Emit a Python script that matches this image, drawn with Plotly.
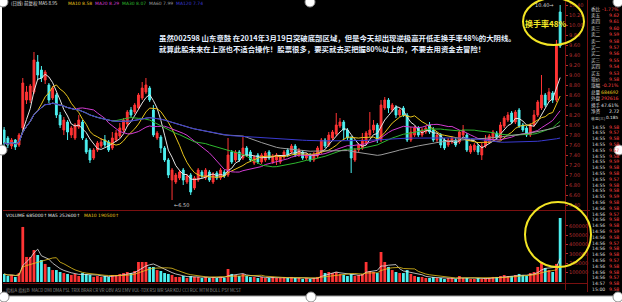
import plotly.graph_objects as go
import pandas as pd

W, H = 622, 302


def px(x):
    return x / W


def py(y):
    return 1 - y / H


# ---------------- data (daily K-line, 002598) ----------------
opens = [7.90, 7.74, 7.58, 7.70, 7.60, 7.94, 8.50, 8.50, 8.66, 9.26,
         9.10, 8.90, 8.80, 8.54, 8.60, 8.20, 7.90, 8.06, 7.80, 7.74,
         7.96, 8.06, 7.70, 7.50, 7.34, 7.50, 7.58, 7.70, 7.66, 7.54,
         7.70, 7.78, 7.90, 8.02, 8.30, 8.26, 8.34, 8.54, 8.66, 8.74,
         8.30, 7.74, 7.76, 7.54, 7.30, 6.90, 6.86, 6.94, 7.10, 6.86,
         7.00, 6.74, 6.90, 7.06, 6.94, 7.06, 6.86, 7.04, 6.94, 7.06,
         7.00, 7.46, 7.30, 7.46, 7.34, 7.54, 7.46, 7.24, 7.40, 7.26,
         7.30, 7.46, 7.26, 7.30, 7.26, 7.36, 7.50, 7.46, 7.58, 7.40,
         7.46, 7.34, 7.40, 7.30, 7.38, 7.46, 7.70, 7.60, 7.74, 7.82,
         7.98, 8.06, 7.90, 7.74, 7.30, 7.50, 7.54, 7.64, 7.80, 7.90,
         8.00, 7.70, 8.34, 8.50, 8.30, 8.36, 8.20, 8.34, 8.20, 7.70,
         7.80, 7.94, 7.80, 7.86, 8.00, 7.90, 7.70, 7.80, 7.70, 7.60,
         7.66, 7.70, 7.66, 7.80, 7.80, 7.46, 7.50, 7.58, 7.40, 7.58,
         7.66, 7.74, 7.84, 7.74, 7.98, 8.10, 8.24, 8.06, 8.30, 8.00,
         7.94, 7.80, 8.00, 8.20, 8.34, 8.60, 8.50, 8.64, 8.50, 10.26]
closes = [7.64, 7.60, 7.70, 7.56, 7.80, 8.84, 8.66, 8.78, 9.30, 9.00,
          8.94, 9.06, 8.50, 8.74, 8.20, 8.00, 8.10, 7.86, 7.94, 8.00,
          8.10, 7.74, 7.46, 7.30, 7.50, 7.64, 7.66, 7.60, 7.50, 7.74,
          7.84, 7.94, 8.10, 8.26, 8.20, 8.40, 8.60, 8.74, 8.80, 8.50,
          7.80, 7.84, 7.54, 7.30, 7.00, 7.10, 7.00, 7.06, 6.90, 6.98,
          6.66, 6.94, 7.10, 6.98, 7.10, 6.90, 7.02, 6.94, 7.10, 6.98,
          7.40, 7.26, 7.46, 7.30, 7.54, 7.40, 7.30, 7.36, 7.26, 7.40,
          7.44, 7.34, 7.38, 7.40, 7.36, 7.46, 7.40, 7.58, 7.40, 7.50,
          7.34, 7.40, 7.30, 7.42, 7.54, 7.70, 7.58, 7.80, 7.86, 8.00,
          8.06, 7.90, 7.74, 7.34, 7.50, 7.60, 7.70, 7.84, 7.90, 8.00,
          7.70, 8.40, 8.50, 8.34, 8.40, 8.20, 8.30, 8.20, 7.70, 7.86,
          7.94, 7.80, 7.90, 7.94, 7.86, 7.70, 7.80, 7.60, 7.54, 7.70,
          7.74, 7.60, 7.86, 7.90, 7.50, 7.58, 7.60, 7.46, 7.58, 7.70,
          7.78, 7.86, 7.74, 8.00, 8.14, 8.20, 8.06, 8.26, 7.98, 7.90,
          7.80, 8.00, 8.20, 8.46, 8.60, 8.40, 8.66, 8.50, 9.60, 9.58]
highs = [7.96, 7.78, 7.74, 7.72, 7.84, 8.94, 8.78, 8.82, 9.46, 9.40,
         9.18, 9.10, 8.84, 8.78, 8.64, 8.26, 8.16, 8.10, 7.98, 8.04,
         8.20, 8.10, 7.74, 7.54, 7.54, 7.68, 7.74, 7.80, 7.70, 7.86,
         7.90, 8.04, 8.14, 8.30, 8.36, 8.44, 8.64, 8.86, 8.94, 8.78,
         8.40, 7.88, 7.80, 7.58, 7.34, 7.14, 7.04, 7.10, 7.14, 7.02,
         7.04, 6.98, 7.14, 7.10, 7.14, 7.10, 7.06, 7.08, 7.14, 7.10,
         7.74, 7.50, 7.50, 7.50, 7.76, 7.58, 7.50, 7.40, 7.44, 7.44,
         7.48, 7.50, 7.42, 7.44, 7.40, 7.50, 7.54, 7.62, 7.62, 7.54,
         7.50, 7.44, 7.44, 7.46, 7.58, 7.74, 7.74, 7.86, 7.90, 8.24,
         8.14, 8.10, 7.94, 7.78, 7.54, 7.64, 7.84, 7.88, 8.26, 8.10,
         8.04, 8.50, 8.56, 8.54, 8.44, 8.40, 8.34, 8.38, 8.24, 7.96,
         7.98, 7.98, 7.94, 7.98, 8.06, 7.96, 7.84, 7.84, 7.74, 7.74,
         7.78, 7.74, 7.90, 8.00, 7.84, 7.62, 7.64, 7.62, 7.66, 7.80,
         7.82, 7.90, 7.88, 8.06, 8.18, 8.26, 8.28, 8.30, 8.34, 8.04,
         7.98, 8.04, 8.30, 8.50, 9.00, 8.64, 8.74, 8.68, 9.70, 10.40]
lows = [7.58, 7.54, 7.52, 7.50, 7.56, 7.90, 8.42, 8.44, 8.62, 8.90,
        8.86, 8.82, 8.44, 8.50, 8.14, 7.94, 7.80, 7.70, 7.74, 7.70,
        7.92, 7.70, 7.42, 7.24, 7.30, 7.46, 7.54, 7.56, 7.46, 7.50,
        7.66, 7.74, 7.86, 7.96, 8.16, 8.22, 8.30, 8.50, 8.62, 8.46,
        7.76, 7.70, 7.44, 7.26, 6.94, 6.50, 6.82, 6.90, 6.80, 6.82,
        6.60, 6.70, 6.86, 6.94, 6.90, 6.86, 6.82, 6.90, 6.90, 6.94,
        6.96, 7.22, 7.26, 7.26, 7.30, 7.36, 7.26, 7.20, 7.22, 7.22,
        7.26, 7.30, 7.22, 7.20, 7.22, 7.32, 7.36, 7.42, 7.36, 7.36,
        7.30, 7.30, 7.26, 7.26, 7.34, 7.42, 7.54, 7.56, 7.70, 7.78,
        7.94, 7.70, 7.70, 7.04, 7.26, 7.46, 7.50, 7.60, 7.76, 7.84,
        7.64, 7.66, 8.30, 8.24, 8.26, 8.14, 8.16, 8.16, 7.66, 7.66,
        7.76, 7.76, 7.76, 7.82, 7.82, 7.66, 7.66, 7.54, 7.50, 7.56,
        7.62, 7.56, 7.62, 7.76, 7.46, 7.42, 7.46, 7.40, 7.30, 7.54,
        7.62, 7.70, 7.70, 7.70, 7.94, 8.06, 8.02, 8.02, 7.94, 7.86,
        7.76, 7.76, 7.96, 8.16, 8.30, 8.36, 8.46, 8.44, 8.46, 9.54]
# volume in 万手 (10k lots)
volumes = [8.6, 6.4, 7.5, 5.4, 9.6, 58.9, 26.8, 26.8, 34.2, 28.9,
           23.5, 19.3, 16.1, 12.8, 12.8, 10.7, 9.6, 8.6, 7.5, 8.6,
           6.4, 9.6, 8.6, 7.5, 5.4, 6.4, 5.4, 6.4, 5.4, 7.5,
           7.5, 8.6, 9.6, 10.7, 9.6, 11.8, 21.4, 21.4, 21.4, 16.1,
           16.1, 12.8, 11.8, 9.6, 8.6, 7.5, 5.4, 5.4, 6.4, 4.3,
           6.4, 5.4, 5.4, 4.3, 5.4, 4.3, 5.4, 4.3, 5.4, 4.3,
           13.9, 8.6, 7.5, 6.4, 8.6, 6.4, 5.4, 5.4, 4.3, 5.4,
           4.3, 4.3, 5.4, 4.3, 4.3, 5.4, 4.3, 5.4, 4.3, 4.3,
           3.2, 4.3, 3.2, 4.3, 5.4, 12.8, 9.6, 10.7, 9.6, 10.7,
           8.6, 7.5, 6.4, 8.6, 6.4, 7.5, 8.6, 21.4, 11.8, 10.7,
           9.6, 32.1, 21.4, 16.1, 12.8, 10.7, 9.6, 9.6, 12.8, 8.6,
           6.4, 5.4, 5.4, 4.3, 4.3, 5.4, 4.3, 4.3, 3.2, 4.3,
           4.3, 3.2, 6.4, 4.3, 4.3, 3.2, 3.2, 4.3, 3.2, 4.3,
           4.3, 5.4, 5.4, 6.4, 7.5, 6.4, 6.4, 7.5, 8.6, 7.5,
           6.4, 9.6, 10.7, 16.1, 21.4, 15.0, 12.8, 10.7, 19.3, 68.5]

ma_periods = [5, 10, 20, 30, 60, 120]
ma_colors = ["#e4e4e4", "#e8c41c", "#d23cd2", "#2eb82e", "#9c9c9c", "#3a3ad0"]
vol_ma_periods = [5, 10]
vol_ma_colors = ["#e4e4e4", "#e8c41c"]

title_lines = [
    "虽然002598 山东章鼓 在2014年3月19日突破底部区域，但是今天却出现逆极高开低走换手率48%的大阴线。",
    "就算此股未来在上涨也不适合操作！股票很多，要买就去买把握80%以上的，不要去用资金去冒险！",
]
circle_note = "换手率48%"

panel_labels = ["委比", "卖五", "卖四", "卖三", "卖二", "卖一", "买一", "买二", "买三",
                "买四", "买五", "现价", "涨幅", "总量", "外盘", "换手", "净资", "收益(三)"]
panel_values = ["-1.77%", "9.62", "9.61", "9.60", "9.59", "9.58", "9.57", "9.56", "9.55",
                "9.54", "9.53", "9.58", "-0.21%", "684692", "292616", "47.61%", "2.72", "0.185"]
tick_times = ["14:55"] * 13 + ["14:56"] * 14 + ["14:57", "15:00"]
tick_prices = ["9.58", "9.57", "9.58", "9.58", "9.57", "9.58", "9.59", "9.58", "9.58", "9.57",
               "9.58", "9.58", "9.59", "9.58", "9.58", "9.57", "9.58", "9.58", "9.59", "9.58",
               "9.57", "9.58", "9.58", "9.57", "9.58", "9.58", "9.57", "9.58", "9.58"]
indicator_tabs = "指标A 指标B  MACD DMI DMA FSL TRIX BRAR CR VR OBV ASI EMV VOL-TDX RSI WR SAR KDJ CCI ROC MTM BOLL PSY MCST"

# ---------------- figure ----------------
n = len(closes)
idx = list(range(n))
close_s = pd.Series(closes)
vol_s = pd.Series(volumes)

UP = "#ff3434"
DN = "#4cf0f0"
CJK = "Noto Sans CJK SC"

fig = go.Figure()
fig.add_trace(go.Candlestick(
    x=idx, open=opens, high=highs, low=lows, close=closes,
    increasing=dict(line=dict(color=UP, width=1), fillcolor=UP),
    decreasing=dict(line=dict(color=DN, width=1), fillcolor=DN),
    whiskerwidth=0, xaxis="x", yaxis="y", showlegend=False, hoverinfo="skip"))

for p, c in zip(ma_periods, ma_colors):
    fig.add_trace(go.Scatter(x=idx, y=close_s.rolling(p, min_periods=1).mean(),
                             mode="lines", line=dict(color=c, width=1),
                             xaxis="x", yaxis="y", showlegend=False, hoverinfo="skip"))

vol_colors = [UP if c >= o else DN for o, c in zip(opens, closes)]
fig.add_trace(go.Bar(x=idx, y=volumes, marker=dict(color=vol_colors, line=dict(width=0)),
                     xaxis="x2", yaxis="y2", showlegend=False, hoverinfo="skip"))
for p, c in zip(vol_ma_periods, vol_ma_colors):
    fig.add_trace(go.Scatter(x=idx, y=vol_s.rolling(p, min_periods=1).mean(),
                             mode="lines", line=dict(color=c, width=0.8),
                             xaxis="x2", yaxis="y2", showlegend=False, hoverinfo="skip"))

X0, X1 = 3, 565
price_top, price_bot = 2, 208
vol_top, vol_bot = 212, 282

tick_red = "#b83030"
fig.update_layout(
    width=W, height=H, margin=dict(l=0, r=0, t=0, b=0),
    paper_bgcolor="#000000", plot_bgcolor="#000000",
    bargap=0.25, showlegend=False,
    xaxis=dict(domain=[px(X0), px(X1)], range=[-0.3, n + 0.3], visible=False,
               rangeslider=dict(visible=False), anchor="y"),
    xaxis2=dict(domain=[px(X0), px(X1)], range=[-0.3, n + 0.3], visible=False, anchor="y2"),
    yaxis=dict(domain=[py(price_bot), py(price_top)], range=[6.34, 10.46], side="right",
               anchor="x", showgrid=False, zeroline=False, tickformat=".2f",
               tick0=6.40, dtick=0.2, tickfont=dict(size=5, color=tick_red, family="DejaVu Sans"),
               ticks="outside", ticklen=2, tickcolor=tick_red, showline=False),
    yaxis2=dict(domain=[py(vol_bot), py(vol_top)], range=[0, 74.9], side="right",
                anchor="x2", showgrid=False, zeroline=False,
                tickvals=[10, 20, 30, 40, 50, 60],
                ticktext=["100000", "200000", "300000", "400000", "500000", "600000"],
                tickfont=dict(size=5, color=tick_red, family="DejaVu Sans"),
                ticks="outside", ticklen=2, tickcolor=tick_red),
)

shapes = []
dim_red = "#7a1010"
# frame lines
shapes.append(dict(type="line", xref="paper", yref="paper", x0=px(X0), x1=px(590),
                   y0=py(210.5), y1=py(210.5), line=dict(color=dim_red, width=1)))
shapes.append(dict(type="line", xref="paper", yref="paper", x0=px(X0), x1=px(588),
                   y0=py(283.5), y1=py(283.5), line=dict(color=dim_red, width=1)))
shapes.append(dict(type="line", xref="paper", yref="paper", x0=px(X1 + 0.5), x1=px(X1 + 0.5),
                   y0=py(0), y1=py(290), line=dict(color=dim_red, width=1)))
shapes.append(dict(type="line", xref="paper", yref="paper", x0=px(587.5), x1=px(587.5),
                   y0=py(0), y1=py(292), line=dict(color=dim_red, width=1)))
# yellow ellipses
shapes.append(dict(type="circle", xref="paper", yref="paper", x0=px(523), x1=px(584),
                   y0=py(45), y1=py(-2), line=dict(color="#f2e424", width=2)))
shapes.append(dict(type="circle", xref="paper", yref="paper", x0=px(525), x1=px(591),
                   y0=py(267), y1=py(202), line=dict(color="#f2e424", width=2)))
# white screenshot border
shapes.append(dict(type="rect", xref="paper", yref="paper", x0=0, x1=px(2),
                   y0=0, y1=1, fillcolor="#ffffff", line=dict(width=0)))
shapes.append(dict(type="rect", xref="paper", yref="paper", x0=0, x1=1,
                   y0=0, y1=py(296), fillcolor="#ffffff", line=dict(width=0)))
shapes.append(dict(type="line", xref="paper", yref="paper", x0=0, x1=1,
                   y0=py(296), y1=py(296), line=dict(color="#9a9a9a", width=1)))
# selection handles
for hx, hy in [(3, 2), (310, 2), (618, 2), (2, 150), (619, 150), (4, 297), (311, 297), (618, 297)]:
    shapes.append(dict(type="circle", xref="paper", yref="paper",
                       x0=px(hx - 5), x1=px(hx + 5), y0=py(hy + 5), y1=py(hy - 5),
                       fillcolor="#ffffff", line=dict(color="#8a8a8a", width=1)))
fig.update_layout(shapes=shapes)

ann = []


def txt(x, y, s, size=5, color="#cfcfcf", xanchor="left", family="DejaVu Sans"):
    ann.append(dict(x=px(x), y=py(y), xref="paper", yref="paper", text=s, showarrow=False,
                    xanchor=xanchor, yanchor="middle", font=dict(size=size, color=color, family=family)))


# header row
last_ma = [close_s.rolling(p, min_periods=1).mean().iloc[-1] for p in ma_periods]
txt(9, 3.5, "(日线) 前复权 MA5 %.2f" % last_ma[0], 4.5, "#e4e4e4", family=CJK)
hdr_x = [66, 93, 120, 147, 174]
for k in range(1, 6):
    txt(hdr_x[k - 1], 3.5, "MA%d %.2f" % (ma_periods[k], last_ma[k]), 4.5, ma_colors[k])

# volume header
vma = [vol_s.rolling(p, min_periods=1).mean().iloc[-1] for p in vol_ma_periods]
txt(4, 215.5, "VOLUME %.0f↑" % (volumes[-1] * 10000), 4.5, "#e4e4e4")
txt(46, 215.5, "MA5 %.0f↑" % (vma[0] * 10000), 4.5, "#e4e4e4")
txt(82, 215.5, "MA10 %.0f↑" % (vma[1] * 10000), 4.5, "#e8c41c")

# big text
txt(157, 38, "<b>" + title_lines[0] + "</b>", 7.4, "#e6f0ff", family=CJK)
txt(157, 48, "<b>" + title_lines[1] + "</b>", 7.4, "#e6f0ff", family=CJK)
txt(545, 24, "<b>" + circle_note + "</b>", 8, "#f4e826", xanchor="center", family=CJK)

# high / low markers derived from the data
hi_i = max(idx, key=lambda i: highs[i])
lo_i = min(idx, key=lambda i: lows[i])
ann.append(dict(x=hi_i - 1.2, y=highs[hi_i], xref="x", yref="y", text="%.2f→" % highs[hi_i],
                showarrow=False, xanchor="right", yanchor="middle",
                font=dict(size=5, color="#d0d0d0", family="DejaVu Sans")))
ann.append(dict(x=lo_i, y=lows[lo_i], xref="x", yref="y", text="←%.2f" % lows[lo_i],
                showarrow=False, xanchor="left", yanchor="top",
                font=dict(size=5, color="#d0d0d0", family="DejaVu Sans")))

# right panel
for k, (lab, val) in enumerate(zip(panel_labels, panel_values)):
    yy = 9 + k * 6.4
    lsize = 3.9 if len(lab) > 2 else 4.6
    txt(588.5, yy, lab, lsize, "#d8d8d8", family=CJK)
    vcol = "#e8c41c" if lab == "总量" else ("#e0e0e0" if lab in ("换手", "净资", "收益(三)") else "#ff4040")
    txt(621, yy, val, 4.3 if len(lab) > 2 else 4.6, vcol, xanchor="right")
for k, (tt, tp) in enumerate(zip(tick_times, tick_prices)):
    yy = 127 + k * 5.8
    txt(590, yy, tt, 4.6, "#d8d8d8")
    txt(621, yy, tp, 4.6, "#ff4040", xanchor="right")

# indicator tab row
txt(4, 290, indicator_tabs, 4.3, "#8a8a8a", family=CJK)

fig.update_layout(annotations=ann)
fig.write_html("out.html")
